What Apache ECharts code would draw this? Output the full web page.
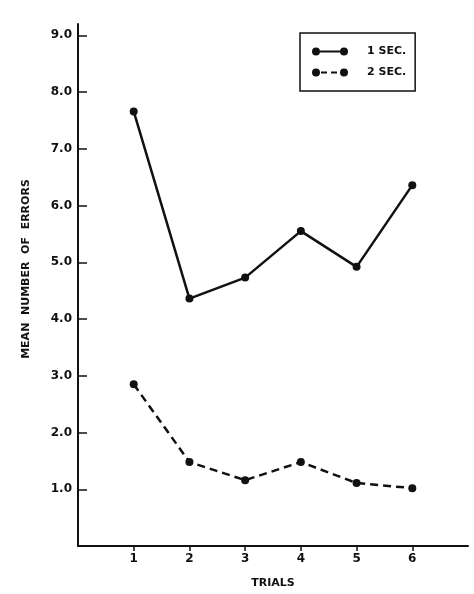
<!DOCTYPE html>
<html>
<head>
<meta charset="utf-8">
<script src="https://cdn.jsdelivr.net/npm/echarts@6/dist/echarts.min.js"></script>
<style>html,body{margin:0;padding:0;background:#fff;}#c{width:474px;height:594px;}</style>
</head>
<body>
<div id="c"></div>
<script>
var trials = [1, 2, 3, 4, 5, 6];
var oneSec = [7.66, 4.36, 4.73, 5.55, 4.92, 6.36];
var twoSec = [2.85, 1.48, 1.16, 1.48, 1.11, 1.02];
var yTicks = [1, 2, 3, 4, 5, 6, 7, 8, 9];
var seriesNames = ['1 SEC.', '2 SEC.'];
var xName = 'TRIALS';
var yName = 'MEAN  NUMBER  OF  ERRORS';

var font = 'DejaVu Sans';
var circ = function (cx) { return 'M' + (cx - 4) + ',4 A4,4 0 1,0 ' + (cx + 4) + ',4 A4,4 0 1,0 ' + (cx - 4) + ',4 Z '; };
var solidIcon = 'path://' + circ(4) + circ(32) + 'M8,3 L28,3 L28,5 L8,5 Z';
var dashIcon = 'path://' + circ(4) + circ(32) + 'M9,3 L15,3 L15,5 L9,5 Z M19,3 L25,3 L25,5 L19,5 Z';

function pairs(vals) { return trials.map(function (t, i) { return [t, vals[i]]; }); }

var chart = echarts.init(document.getElementById('c'), null, { renderer: 'canvas' });
chart.setOption({
  animation: false,
  backgroundColor: '#fff',
  grid: { left: 78, right: 6, top: 24, bottom: 48 },
  legend: {
    left: 300, top: 33,
    orient: 'vertical',
    borderColor: '#111', borderWidth: 1.5,
    padding: [13, 9, 13, 12],
    itemGap: 10,
    itemWidth: 36, itemHeight: 9,
    textStyle: { fontFamily: font, fontSize: 11, fontWeight: 'bold', color: '#111', padding: [0, 0, 0, 14] },
    data: [
      { name: seriesNames[0], icon: solidIcon },
      { name: seriesNames[1], icon: dashIcon }
    ]
  },
  xAxis: {
    type: 'value', min: 0, max: 7,
    name: xName, nameLocation: 'middle', nameGap: 32,
    nameTextStyle: { fontFamily: font, fontSize: 11, fontWeight: 'bold', color: '#111' },
    axisLine: { lineStyle: { color: '#111', width: 2 } },
    axisTick: { show: true, length: 5, lineStyle: { color: '#111', width: 1.5 }, customValues: trials },
    axisLabel: { customValues: trials, margin: 7, fontFamily: font, fontSize: 12, fontWeight: 'bold', color: '#111' },
    splitLine: { show: false }
  },
  yAxis: {
    type: 'value', min: 0, max: 9.2,
    name: yName, nameLocation: 'middle', nameGap: 46, nameRotate: 90,
    nameTextStyle: { fontFamily: font, fontSize: 11, fontWeight: 'bold', color: '#111', padding: [0, 0, 0, 32] },
    axisLine: { show: true, lineStyle: { color: '#111', width: 2 } },
    axisTick: { show: true, inside: true, length: 9, lineStyle: { color: '#111', width: 1.5 }, customValues: yTicks },
    axisLabel: { customValues: yTicks, margin: 6, fontFamily: font, fontSize: 12, fontWeight: 'bold', color: '#111',
      formatter: function (v) { return v.toFixed(1); } },
    splitLine: { show: false }
  },
  series: [
    {
      name: seriesNames[0], type: 'line', data: pairs(oneSec),
      symbol: 'circle', symbolSize: 8,
      lineStyle: { color: '#111', width: 2.5 },
      itemStyle: { color: '#111' }
    },
    {
      name: seriesNames[1], type: 'line', data: pairs(twoSec),
      symbol: 'circle', symbolSize: 8,
      lineStyle: { color: '#111', width: 2.5, type: [8, 5] },
      itemStyle: { color: '#111' }
    }
  ]
});
</script>
</body>
</html>
